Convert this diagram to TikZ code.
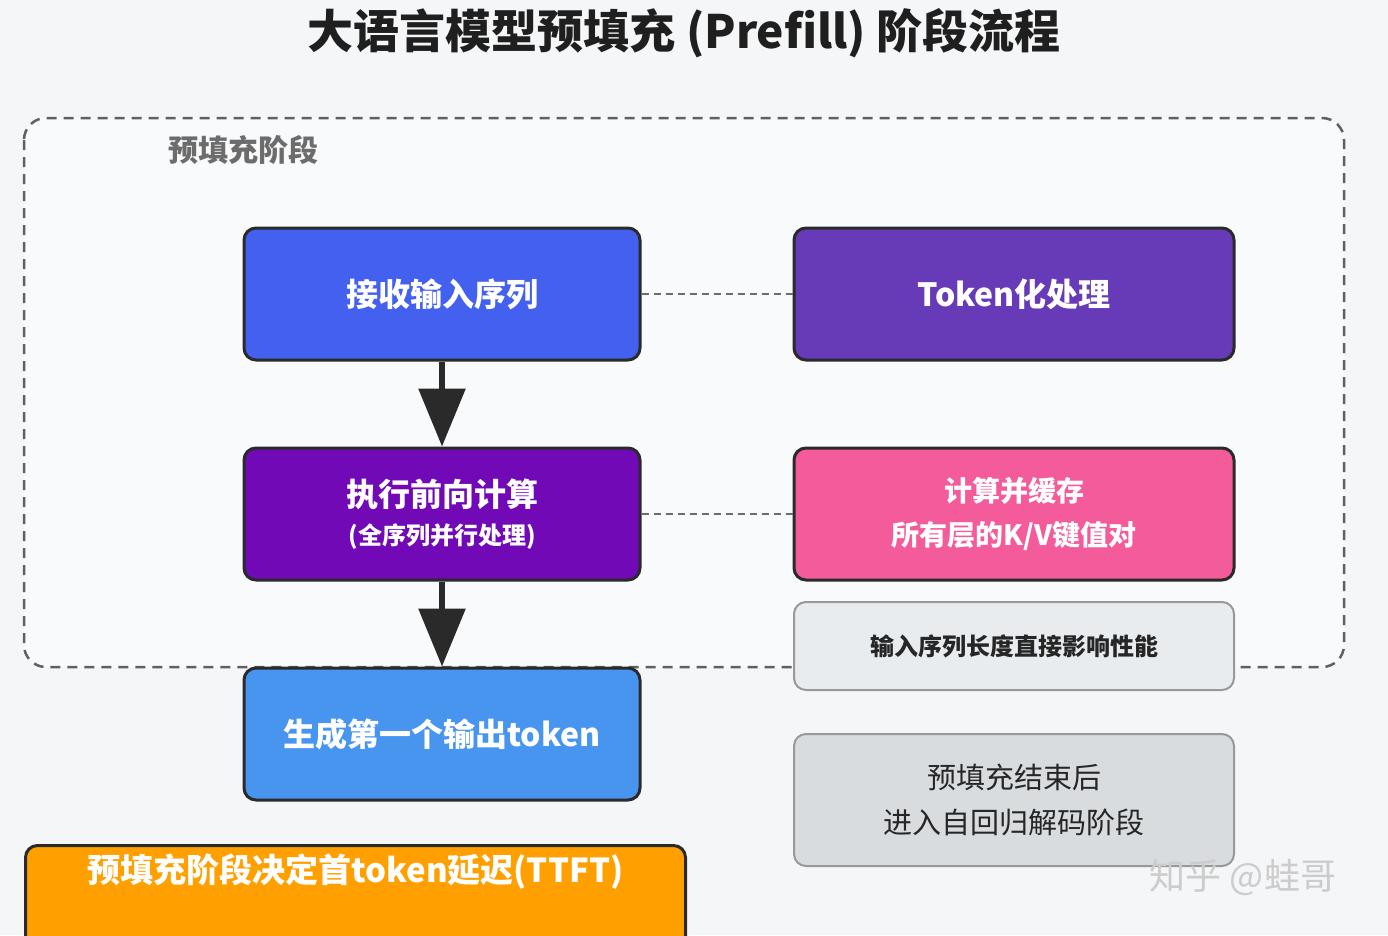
\documentclass[tikz,border=0pt]{standalone}
\usepackage{fontspec}
\setmainfont{Noto Sans CJK SC}
\newfontfamily\cjkb[BoldFont={Noto Sans CJK SC Bold}]{Noto Sans CJK SC}
\usetikzlibrary{arrows.meta}
\definecolor{bg}{HTML}{F5F6F8}
\definecolor{bdr}{HTML}{2A2A2A}
\tikzset{
 box/.style={draw=bdr,line width=3pt,rounded corners=12pt,text=white,font=\bfseries\fontsize{32}{40}\selectfont,align=center},
 grayb/.style={draw=gray!80,line width=2pt,rounded corners=12pt,text=black!85,align=center},
 dconn/.style={draw=gray!85!black,line width=2.5pt,dash pattern=on 7pt off 5pt},
 bigarrow/.style={draw=bdr,line width=6pt,-{Triangle[length=58pt,width=46pt]}}
}
\begin{document}
\begin{tikzpicture}[x=1pt,y=1pt]
\useasboundingbox (0,0) rectangle (1388,-935);
\fill[bg] (0,0) rectangle (1388,-935);
\node[font=\bfseries\fontsize{46}{54}\selectfont,text=black!88] (title) at (684,-33) {大语言模型预填充 (Prefill) 阶段流程};
\draw[draw=gray!75!black,line width=2.5pt,dash pattern=on 10pt off 7pt,rounded corners=22pt,fill=bg!60!white] (24,-118) rectangle (1344,-667);
\node[font=\bfseries\fontsize{30}{36}\selectfont,text=gray!85!black] (lab) at (243,-150) {预填充阶段};
\node[box,fill={rgb,255:red,67;green,97;blue,238},minimum width=396pt,minimum height=132pt] (b1) at (442,-294) {接收输入序列};
\node[box,fill={rgb,255:red,103;green,58;blue,183},minimum width=440pt,minimum height=132pt] (b2) at (1014,-294) {Token化处理};
\node[box,fill={rgb,255:red,114;green,9;blue,183},minimum width=396pt,minimum height=132pt] (b3) at (442,-514) {执行前向计算\\[-2pt]{\fontsize{24}{30}\selectfont (全序列并行处理)}};
\node[box,fill={rgb,255:red,244;green,91;blue,154},minimum width=440pt,minimum height=132pt,font=\bfseries\fontsize{28}{44}\selectfont] (b4) at (1014,-514) {计算并缓存\\所有层的K/V键值对};
\node[box,fill={rgb,255:red,72;green,149;blue,239},minimum width=396pt,minimum height=132pt] (b6) at (442,-734) {生成第一个输出token};
\node[grayb,fill={rgb,255:red,233;green,236;blue,239},minimum width=440pt,minimum height=88pt,font=\bfseries\fontsize{24}{30}\selectfont] (b5) at (1014,-646) {输入序列长度直接影响性能};
\node[grayb,fill={rgb,255:red,217;green,220;blue,223},minimum width=440pt,minimum height=132pt,font=\fontsize{29}{45}\selectfont] (b7) at (1014,-800) {预填充结束后\\进入自回归解码阶段};
\node[box,fill={rgb,255:red,255;green,160;blue,0},minimum width=660pt,minimum height=120pt,anchor=north west,font=\bfseries\fontsize{33}{40}\selectfont,text depth=60pt,text height=14pt] (b8) at (24,-844) {预填充阶段决定首token延迟(TTFT)};
\draw[dconn] (b1.east) -- (b2.west);
\draw[dconn] (b3.east) -- (b4.west);
\draw[bigarrow] (b1.south) -- (b3.north);
\draw[bigarrow] (b3.south) -- (b6.north);
\node[font=\fontsize{36}{40}\selectfont,text=gray!40] (wm) at (1243,-877) {知乎 @蛙哥};
\end{tikzpicture}
\end{document}
